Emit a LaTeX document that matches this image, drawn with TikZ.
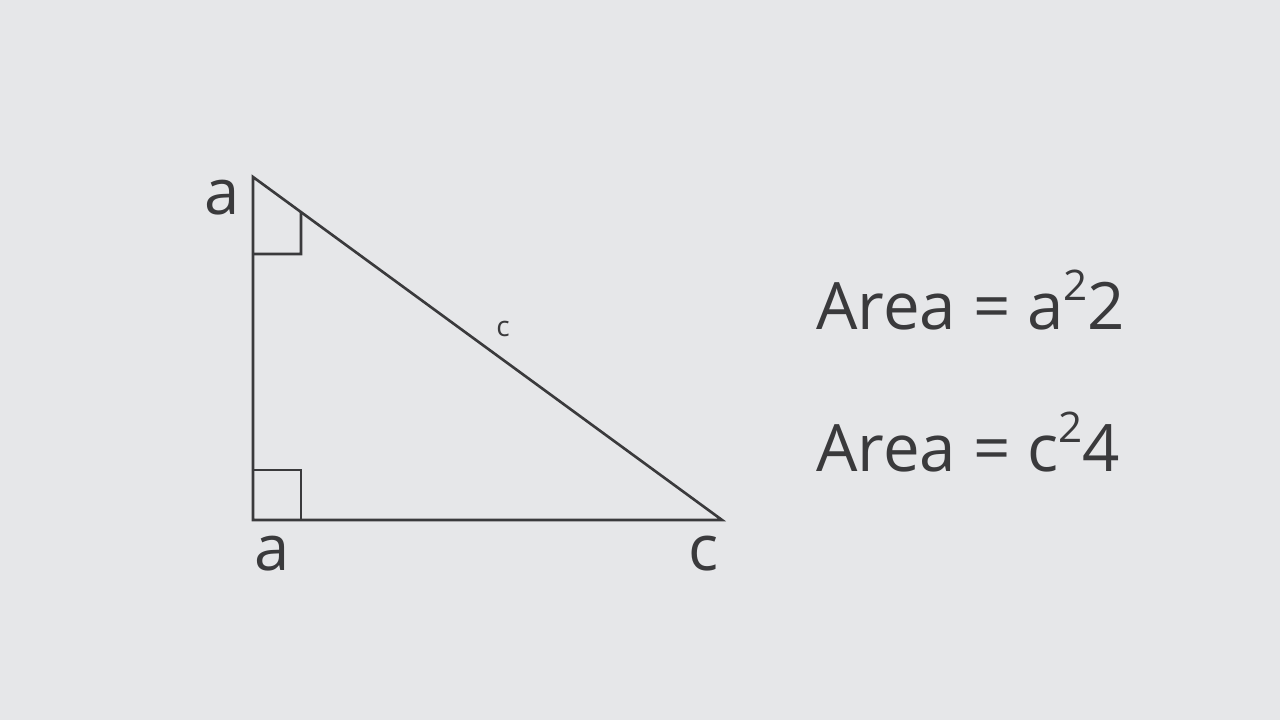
\documentclass[tikz,border=0pt]{standalone}
\usepackage{fontspec}
\setmainfont{Open Sans}
\usetikzlibrary{calc}
\definecolor{bgc}{HTML}{E6E7E9}
\definecolor{ink}{HTML}{3A3A3C}

\begin{document}
\begin{tikzpicture}[line width=0.75pt,
  lbl/.style={text=ink,font=\fontsize{18}{18}\selectfont,inner sep=0pt},
  eqn/.style={text=ink,font=\fontsize{18.6}{18.6}\selectfont,inner sep=0pt,anchor=base west}]
\fill[bgc] (0,0) rectangle (12.8,7.2);
\useasboundingbox (0,0) rectangle (12.8,7.2);

\coordinate (a) at (2.53,5.43);
\coordinate (b) at (2.53,2.00);
\coordinate (c) at (7.22,2.00);
\coordinate (m1) at (2.53,4.66);
\coordinate (m2) at (3.01,4.66);
\coordinate (m3) at ($(a)!0.1023!(c)$);
\coordinate (n1) at (2.53,2.50);
\coordinate (n2) at (3.01,2.50);
\coordinate (n3) at (3.01,2.00);

\draw[ink] (a)--(b)--(c)--cycle;
\draw[ink] (m1)--(m2)--(m3);
\draw[ink] (n1)--(n2)--(n3);

\node[lbl] (La) at (2.22,5.22) {a};
\node[lbl] (Lb) at (2.72,1.66) {a};
\node[lbl] (Lc) at (7.04,1.66) {c};
\node[lbl,font=\fontsize{8}{8}\selectfont] (Lh) at (5.03,3.91) {c};

\node[eqn] (E1) at (8.15,3.90) {Area = a\raisebox{0.85ex}{\fontsize{12}{12}\selectfont 2}2};
\node[eqn] (E2) at (8.15,2.48) {Area = c\raisebox{0.85ex}{\fontsize{12}{12}\selectfont 2}4};

\end{tikzpicture}
\end{document}
